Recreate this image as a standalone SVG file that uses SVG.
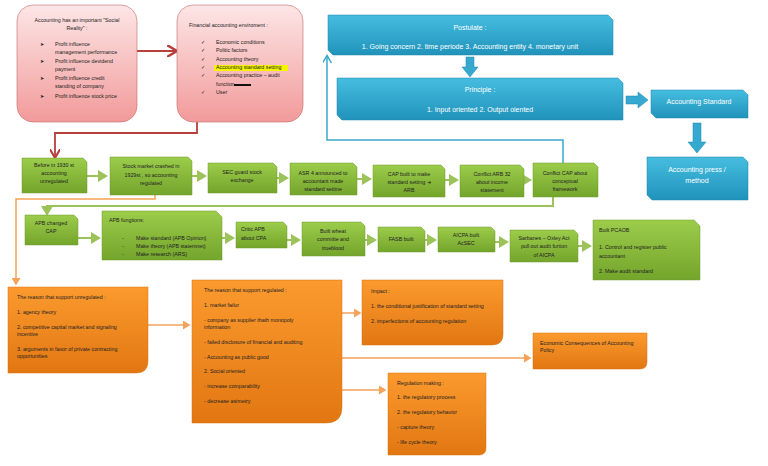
<svg xmlns="http://www.w3.org/2000/svg" width="768" height="466" viewBox="0 0 768 466">
<defs>
<linearGradient id="gG" x1="0" y1="0" x2="0" y2="1"><stop offset="0" stop-color="#9ccc4a"/><stop offset="1" stop-color="#74a52c"/></linearGradient>
<linearGradient id="gB" x1="0" y1="0" x2="0" y2="1"><stop offset="0" stop-color="#45bde0"/><stop offset="1" stop-color="#2193bb"/></linearGradient>
<linearGradient id="gO" x1="0" y1="0" x2="0" y2="1"><stop offset="0" stop-color="#fb9a2e"/><stop offset="1" stop-color="#e27712"/></linearGradient>
<linearGradient id="gP" x1="0" y1="0" x2="0" y2="1"><stop offset="0" stop-color="#fde6e6"/><stop offset="1" stop-color="#f29a9a"/></linearGradient>
<marker id="aR" markerWidth="6" markerHeight="6" refX="4" refY="3" orient="auto" markerUnits="strokeWidth"><path d="M0,0 L5,3 L0,6" fill="none" stroke="#b5403e" stroke-width="1.2"/></marker>
<marker id="aG" markerWidth="6" markerHeight="6" refX="4" refY="3" orient="auto" markerUnits="strokeWidth"><path d="M0,0 L5,3 L0,6 Z" fill="#9cc35a"/></marker>
<marker id="aO" markerWidth="6" markerHeight="6" refX="4" refY="3" orient="auto" markerUnits="strokeWidth"><path d="M0,0 L5,3 L0,6 Z" fill="#f5a25a"/></marker>
<marker id="aB" markerWidth="6" markerHeight="6" refX="4" refY="3" orient="auto" markerUnits="strokeWidth"><path d="M0,0 L5,3 L0,6" fill="none" stroke="#3aa9cc" stroke-width="1"/></marker>
</defs>
<style>
text{font-family:"Liberation Sans",Arial,sans-serif;font-size:5.3px;fill:#222}
.c{text-anchor:middle}
.w{fill:#fff;font-size:7px}
.g{fill:url(#gG);stroke:#6e9a2c;stroke-width:0.5}
.b{fill:url(#gB);stroke:#1f86ab;stroke-width:0.5}
.o{fill:url(#gO);stroke:#d8700e;stroke-width:0.5}
.p{fill:url(#gP);stroke:#c46a6a;stroke-width:0.6}
.ba{fill:#35a9cf;stroke:#1f86ab;stroke-width:0.5}
</style>
<g id="connectors" fill="none">
<path d="M132,51 H175" stroke="#b5403e" stroke-width="2" marker-end="url(#aR)"/>
<path d="M197,72 V133 H55 V156" stroke="#b5403e" stroke-width="1.8" marker-end="url(#aR)"/>
<g stroke="#9cc35a" stroke-width="2">
<path d="M87,176 H106" marker-end="url(#aG)"/>
<path d="M192,176 H205" marker-end="url(#aG)"/>
<path d="M277,178 H287" marker-end="url(#aG)"/>
<path d="M357,179 H370" marker-end="url(#aG)"/>
<path d="M445,180 H457" marker-end="url(#aG)"/>
<path d="M524,180 H530" marker-end="url(#aG)"/>
<path d="M553,197 V206 H47 V214" marker-end="url(#aG)"/>
<path d="M78,238 H99" marker-end="url(#aG)"/>
<path d="M222,238 H233" marker-end="url(#aG)"/>
<path d="M287,240 H299" marker-end="url(#aG)"/>
<path d="M365,240 H375" marker-end="url(#aG)"/>
<path d="M425,240 H435" marker-end="url(#aG)"/>
<path d="M495,242 H507" marker-end="url(#aG)"/>
<path d="M578,246 H590" marker-end="url(#aG)"/>
</g>
<path d="M563,163 V140 H327 V57" stroke="#3aa9cc" stroke-width="1.5" marker-end="url(#aB)"/>
<g stroke="#f5a25a" stroke-width="1.5">
<path d="M155,195 V199 H16 V284" marker-end="url(#aO)"/>
<path d="M148,325 H189" marker-end="url(#aO)"/>
<path d="M342,313 H360" marker-end="url(#aO)"/>
<path d="M342,358 H530" marker-end="url(#aO)"/>
<path d="M342,390 H385" marker-end="url(#aO)"/>
</g>
</g>
<g id="n-social"><rect class="p" x="17" y="5" width="120" height="117" rx="16"/>
<text class="c" x="77" y="22">Accounting has an important "Social</text><text class="c" x="77" y="30">Reality" :</text>
<text x="40" y="46">➤</text><text x="55" y="46">Profit influence</text><text x="55" y="54">management performance</text>
<text x="40" y="63">➤</text><text x="55" y="63">Profit influence devidend</text><text x="55" y="71">payment</text>
<text x="40" y="80">➤</text><text x="55" y="80">Profit influence credit</text><text x="55" y="88">standing of company</text>
<text x="40" y="98">➤</text><text x="55" y="98">Profit influence stock price</text></g>
<g id="n-env"><rect class="p" x="177" y="5" width="126" height="117" rx="16"/>
<text x="189" y="27">Financial accounting enviroment :</text>
<text x="201" y="44">✓</text><text x="216" y="44">Economic conditions</text>
<text x="201" y="52">✓</text><text x="216" y="52">Politic factors</text>
<text x="201" y="61">✓</text><text x="216" y="61">Accounting theory</text>
<rect x="214" y="65" width="74" height="6" fill="#f6f500"/>
<text x="201" y="69">✓</text><text x="216" y="69">Accounting standard setting</text>
<text x="201" y="77">✓</text><text x="216" y="77">Accounting   practice  –  audit</text>
<text x="216" y="86">function</text><rect x="234" y="84" width="17" height="2" fill="#111"/>
<text x="201" y="94">✓</text><text x="216" y="94">User</text></g>
<g id="n-postulate"><path class="b" d="M328,15 H608 L613,20 V55 H333 L328,50 Z"/>
<text class="c w" x="470" y="30">Postulate :</text>
<text class="c w" x="470" y="49">1. Going concern 2. time periode 3. Accounting entity  4. monetary unit</text></g>
<path class="ba" d="M466,57 H474 V67 H478 L470,77 L462,67 H466 Z"/>
<g id="n-principle"><path class="b" d="M337,78 H618 L623,83 V120 H342 L337,115 Z"/>
<text class="c w" x="480" y="92">Principle :</text>
<text class="c w" x="480" y="112">1. Input oriented 2. Output oiented</text></g>
<path class="ba" d="M626,96 H638 V92 L648,100 L638,108 V104 H626 Z"/>
<g id="n-std"><path class="b" d="M651,90 H743 L748,95 V118 H656 L651,113 Z"/>
<text class="c w" x="699" y="104">Accounting Standard</text></g>
<path class="ba" d="M693,123 H701 V142 H706 L697,153 L688,142 H693 Z"/>
<g id="n-process"><path class="b" d="M647,157 H743 L748,162 V200 H652 L647,195 Z"/>
<text class="c w" x="697" y="172">Accounting press /</text><text class="c w" x="697" y="183">method</text></g>
<g id="n-g1"><path class="g" d="M22,158 H83 L87,162 V193 H22 Z"/><text class="c" x="54" y="167">Before in 1930 st</text><text class="c" x="54" y="175">accounting</text><text class="c" x="54" y="183">unregulated</text></g>
<g id="n-g2"><path class="g" d="M110,157 H188 L192,161 V195 H110 Z"/><text class="c" x="151" y="168">Stock market crashed in</text><text class="c" x="151" y="177">1929st , so accounting</text><text class="c" x="151" y="185">regulated</text></g>
<g id="n-g3"><path class="g" d="M208,163 H273 L277,167 V193 H208 Z"/><text class="c" x="242" y="174">SEC guard stock</text><text class="c" x="242" y="182">exchange</text></g>
<g id="n-g4"><path class="g" d="M290,163 H353 L357,167 V195 H290 Z"/><text class="c" x="323" y="175">ASR 4 announced to</text><text class="c" x="323" y="183">accountant made</text><text class="c" x="323" y="191">standard settine</text></g>
<g id="n-g5"><path class="g" d="M373,165 H441 L445,169 V197 H373 Z"/><text class="c" x="409" y="176">CAP built to make</text><text class="c" x="409" y="184">standard setting ➔</text><text class="c" x="409" y="192">ARB</text></g>
<g id="n-g6"><path class="g" d="M460,165 H520 L524,169 V197 H460 Z"/><text class="c" x="492" y="176">Conflict ARB 32</text><text class="c" x="492" y="184">about income</text><text class="c" x="492" y="192">statement</text></g>
<g id="n-g7"><path class="g" d="M533,163 H594 L598,167 V197 H533 Z"/><text class="c" x="565" y="175">Conflict CAP about</text><text class="c" x="565" y="183">conceptual</text><text class="c" x="565" y="191">framework</text></g>
<g id="n-g8"><path class="g" d="M25,215 H74 L78,219 V245 H25 Z"/><text class="c" x="51" y="225">APB changed</text><text class="c" x="51" y="233">CAP</text></g>
<g id="n-g9"><path class="g" d="M102,211 H216 L222,217 V260 H102 Z"/><text x="109" y="222">APB fungtions:</text>
<text x="122" y="240">-</text><text x="136" y="240">Make standard (APB Opinion)</text>
<text x="122" y="248">-</text><text x="136" y="248">Make theory (APB statemnet)</text>
<text x="122" y="256">-</text><text x="136" y="256">Make research (ARS)</text></g>
<g id="n-g10"><path class="g" d="M236,222 H283 L287,226 V248 H236 Z"/><text x="241" y="231">Critic APB</text><text x="241" y="240">about CPA</text></g>
<g id="n-g11"><path class="g" d="M302,222 H361 L365,226 V256 H302 Z"/><text class="c" x="333" y="233">Built wheat</text><text class="c" x="333" y="241">committe and</text><text class="c" x="333" y="250">trueblood</text></g>
<g id="n-g12"><path class="g" d="M378,227 H421 L425,231 V252 H378 Z"/><text class="c" x="401" y="241">FASB built</text></g>
<g id="n-g13"><path class="g" d="M438,227 H491 L495,231 V252 H438 Z"/><text class="c" x="466" y="237">AICPA built</text><text class="c" x="466" y="245">AcSEC</text></g>
<g id="n-g14"><path class="g" d="M510,230 H574 L578,234 V262 H510 Z"/><text class="c" x="544" y="240">Sarbanes – Oxley Act</text><text class="c" x="544" y="248">pull out audit furtion</text><text class="c" x="544" y="257">of AICPA</text></g>
<g id="n-g15"><path class="g" d="M593,220 H694 L700,226 V280 H593 Z"/><text x="599" y="232">Built PCAOB</text><text x="599" y="249">1.  Control   and   register   public</text><text x="599" y="258">accountant</text><text x="599" y="273">2. Make audit standard</text></g>
<g id="n-o1"><path class="o" d="M8,287 H148 V361 Q148,373 136,373 H8 Z"/><text x="17" y="299">The reason that support unregulated :</text>
<text x="17" y="314">1. agency theory</text><text x="17" y="329">2. competitive capital market and signaling</text><text x="17" y="336">incentive</text>
<text x="17" y="351">3. arguments in favor of private contracting</text><text x="17" y="358">opportunities</text></g>
<g id="n-o2"><path class="o" d="M192,280 H342 V407 Q342,423 326,423 H192 Z"/><text x="204" y="292">The reason that support regulated :</text>
<text x="204" y="307">1. market failur</text><text x="204" y="322">- company as supplier thath monopoly</text><text x="204" y="329">information</text>
<text x="204" y="344">- failed disclosure of financial and auditing</text><text x="204" y="359">- Accounting as public good</text>
<text x="204" y="373">2. Social oriented</text><text x="204" y="388">- increase comparability</text><text x="204" y="403">- decrease asimetry</text></g>
<g id="n-o3"><path class="o" d="M362,280 H503 V334 Q503,345 492,345 H362 Z"/><text x="371" y="293">Impact :</text>
<text x="371" y="308">1. the conditional justification of standard setting</text><text x="371" y="323">2. imperfections of accounting regulation</text></g>
<g id="n-o4"><path class="o" d="M533,333 H647 V362 Q647,369 640,369 H533 Z"/><text x="540" y="345">Economic Consequences of Accounting</text><text x="540" y="352">Policy</text></g>
<g id="n-o5"><path class="o" d="M388,373 H486 V448 Q486,455 479,455 H388 Z"/><text x="397" y="385">Regulation making :</text>
<text x="397" y="399">1.  the regulatory process</text><text x="397" y="414">2.  the regulatory behavior</text>
<text x="397" y="429">-   capture theory</text><text x="397" y="444">- life cycle theory</text></g>
</svg>
